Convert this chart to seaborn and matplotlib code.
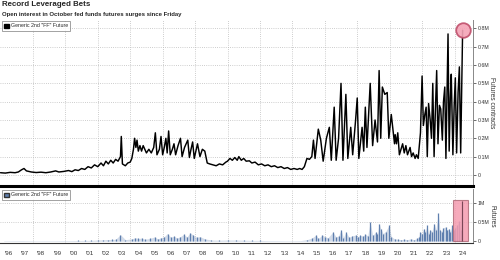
import numpy as np
import pandas as pd
import matplotlib
matplotlib.use("Agg")
import matplotlib.pyplot as plt
import seaborn as sns
from matplotlib.patches import Patch, Rectangle

# ---------------- data ----------------
oi_year = [1996.0, 1996.3, 1996.6, 1996.9, 1997.1, 1997.3, 1997.45, 1997.6, 1997.9,
           1998.2, 1998.5, 1998.8, 1999.1, 1999.4, 1999.6, 1999.9, 2000.2, 2000.4,
           2000.6, 2000.8, 2001.0, 2001.2, 2001.4, 2001.6, 2001.8, 2002.0, 2002.2,
           2002.35, 2002.5, 2002.65, 2002.8, 2002.95, 2003.1, 2003.25, 2003.4, 2003.45,
           2003.52, 2003.7, 2003.85, 2004.0, 2004.1, 2004.2, 2004.27, 2004.35, 2004.42,
           2004.5, 2004.6, 2004.7, 2004.8, 2005.0, 2005.15, 2005.3, 2005.45, 2005.55,
           2005.65, 2005.8, 2005.9, 2006.0, 2006.1, 2006.2, 2006.28, 2006.37, 2006.47,
           2006.6, 2006.7, 2006.8, 2006.95, 2007.1, 2007.2, 2007.35, 2007.55, 2007.65,
           2007.75, 2007.85, 2007.95, 2008.05, 2008.15, 2008.3, 2008.45, 2008.6, 2008.75,
           2008.9, 2009.1, 2009.3, 2009.5, 2009.7, 2009.9, 2010.0, 2010.15, 2010.3,
           2010.45, 2010.6, 2010.7, 2010.85, 2011.0, 2011.15, 2011.35, 2011.5, 2011.7,
           2011.9, 2012.1, 2012.3, 2012.5, 2012.7, 2012.9, 2013.1, 2013.3, 2013.5,
           2013.7, 2013.9, 2014.1, 2014.3, 2014.45, 2014.6, 2014.74, 2014.9, 2015.05,
           2015.2, 2015.3, 2015.4, 2015.6, 2015.75, 2015.9, 2016.1, 2016.28, 2016.4,
           2016.58, 2016.7, 2016.85, 2017.0, 2017.12, 2017.3, 2017.42, 2017.6, 2017.72,
           2017.9, 2018.0, 2018.1, 2018.3, 2018.4, 2018.5, 2018.6, 2018.8, 2018.95,
           2019.1, 2019.25, 2019.35, 2019.45, 2019.55, 2019.7, 2019.85, 2019.95, 2020.1,
           2020.3, 2020.34, 2020.42, 2020.5, 2020.6, 2020.8, 2020.9, 2021.0, 2021.1,
           2021.26, 2021.35, 2021.45, 2021.57, 2021.65, 2021.76, 2021.9, 2022.0, 2022.08,
           2022.17, 2022.25, 2022.32, 2022.4, 2022.5, 2022.58, 2022.66, 2022.74, 2022.82,
           2022.9, 2022.98, 2023.07, 2023.15, 2023.25, 2023.32, 2023.4, 2023.47, 2023.6,
           2023.67, 2023.74, 2023.8, 2023.9, 2023.98, 2024.05, 2024.13, 2024.22, 2024.3,
           2024.38, 2024.5]
oi_value = [0.012, 0.010, 0.014, 0.012, 0.016, 0.028, 0.035, 0.022, 0.016,
            0.013, 0.015, 0.012, 0.016, 0.022, 0.016, 0.019, 0.024, 0.018,
            0.028, 0.024, 0.035, 0.030, 0.045, 0.038, 0.055, 0.045, 0.065,
            0.050, 0.075, 0.060, 0.080, 0.065, 0.085, 0.075, 0.100, 0.210,
            0.060, 0.050, 0.065, 0.070, 0.090, 0.140, 0.200, 0.150, 0.190,
            0.130, 0.160, 0.130, 0.160, 0.120, 0.140, 0.120, 0.150, 0.230,
            0.110, 0.140, 0.210, 0.110, 0.150, 0.200, 0.120, 0.240, 0.110,
            0.140, 0.170, 0.110, 0.160, 0.200, 0.100, 0.150, 0.190, 0.095,
            0.140, 0.180, 0.090, 0.130, 0.170, 0.100, 0.140, 0.130, 0.065,
            0.060, 0.055, 0.050, 0.060, 0.055, 0.070, 0.075, 0.090, 0.080,
            0.095, 0.080, 0.100, 0.080, 0.090, 0.075, 0.077, 0.065, 0.070,
            0.055, 0.060, 0.050, 0.055, 0.045, 0.050, 0.040, 0.045, 0.035,
            0.040, 0.030, 0.035, 0.030, 0.035, 0.030, 0.045, 0.090, 0.085,
            0.100, 0.190, 0.090, 0.250, 0.190, 0.075, 0.200, 0.260, 0.080,
            0.370, 0.080, 0.200, 0.500, 0.080, 0.440, 0.090, 0.260, 0.110,
            0.300, 0.420, 0.090, 0.260, 0.130, 0.370, 0.150, 0.500, 0.160,
            0.300, 0.180, 0.570, 0.200, 0.480, 0.440, 0.450, 0.200, 0.330,
            0.170, 0.220, 0.170, 0.230, 0.110, 0.170, 0.120, 0.160, 0.110,
            0.150, 0.100, 0.120, 0.090, 0.110, 0.090, 0.230, 0.540, 0.270,
            0.330, 0.370, 0.100, 0.390, 0.300, 0.200, 0.500, 0.100, 0.350,
            0.570, 0.170, 0.380, 0.360, 0.190, 0.400, 0.480, 0.090, 0.770,
            0.130, 0.420, 0.550, 0.110, 0.380, 0.530, 0.120, 0.450, 0.590,
            0.120, 0.790]

vol_year = [1996.2, 1996.7, 1997.3, 1997.8, 1998.3, 1998.8, 1999.3, 1999.8, 2000.3,
            2000.8, 2001.2, 2001.6, 2002.0, 2002.3, 2002.6, 2002.9, 2003.1, 2003.4,
            2003.7, 2004.1, 2004.3, 2004.5, 2004.7, 2004.9, 2005.2, 2005.5, 2005.7,
            2005.9, 2006.1, 2006.3, 2006.5, 2006.7, 2006.9, 2007.1, 2007.3, 2007.5,
            2007.7, 2007.9, 2008.1, 2008.3, 2008.6, 2009.0, 2009.5, 2010.0, 2010.5,
            2011.0, 2011.5, 2012.0, 2012.5, 2013.0, 2013.5, 2014.0, 2014.5, 2014.9,
            2015.2, 2015.46, 2015.6, 2015.85, 2016.0, 2016.2, 2016.5, 2016.7, 2016.85,
            2017.0, 2017.15, 2017.3, 2017.5, 2017.7, 2017.9, 2018.05, 2018.2, 2018.35,
            2018.5, 2018.65, 2018.8, 2018.95, 2019.15, 2019.25, 2019.35, 2019.45, 2019.6,
            2019.75, 2019.96, 2020.1, 2020.3, 2020.5, 2020.7, 2020.9, 2021.1, 2021.3,
            2021.5, 2021.7, 2021.8, 2021.9, 2022.0, 2022.1, 2022.2, 2022.3, 2022.4,
            2022.5, 2022.6, 2022.75, 2022.85, 2023.0, 2023.1, 2023.2, 2023.3, 2023.45,
            2023.55, 2023.65, 2023.75, 2023.85, 2023.95, 2024.05, 2024.15, 2024.3,
            2024.38, 2024.45]
vol_value = [0.010, 0.012, 0.015, 0.012, 0.010, 0.012, 0.012, 0.015, 0.015,
             0.018, 0.020, 0.022, 0.030, 0.035, 0.040, 0.045, 0.050, 0.170,
             0.040, 0.060, 0.090, 0.070, 0.080, 0.050, 0.070, 0.110, 0.060,
             0.090, 0.120, 0.200, 0.100, 0.130, 0.080, 0.120, 0.180, 0.110,
             0.220, 0.150, 0.100, 0.120, 0.060, 0.030, 0.025, 0.030, 0.030,
             0.025, 0.020, 0.020, 0.015, 0.015, 0.012, 0.012, 0.015, 0.040,
             0.080, 0.160, 0.070, 0.160, 0.120, 0.090, 0.240, 0.110, 0.140,
             0.300, 0.090, 0.240, 0.100, 0.140, 0.160, 0.120, 0.150, 0.130,
             0.180, 0.140, 0.510, 0.150, 0.240, 0.200, 0.460, 0.330, 0.200,
             0.250, 0.410, 0.120, 0.060, 0.050, 0.040, 0.050, 0.040, 0.060,
             0.040, 0.070, 0.120, 0.240, 0.200, 0.330, 0.250, 0.410, 0.200,
             0.300, 0.250, 0.460, 0.300, 0.730, 0.300, 0.250, 0.350, 0.370,
             0.280, 0.330, 0.250, 0.410, 0.300, 0.350, 0.420, 0.520,
             0.300, 1.050]

year_labels = ["'96", "'97", "'98", "'99", "'00", "'01", "'02", "'03", "'04", "'05",
               "'06", "'07", "'08", "'09", "'10", "'11", "'12", "'13", "'14", "'15",
               "'16", "'17", "'18", "'19", "'20", "'21", "'22", "'23", "'24"]
top_ticks = [0, 0.1, 0.2, 0.3, 0.4, 0.5, 0.6, 0.7, 0.8]
top_tick_labels = ["0", "0.1M", "0.2M", "0.3M", "0.4M", "0.5M", "0.6M", "0.7M", "0.8M"]
bot_ticks = [0, 0.5, 1.0]
bot_tick_labels = ["0", "0.5M", "1M"]
series_name = 'Generic 2nd "FF" Future'
title = "Record Leveraged Bets"
subtitle = "Open interest in October fed funds futures surges since Friday"

# ---------------- style ----------------
sns.set_style("white")
plt.rcParams["font.family"] = ["Liberation Sans", "DejaVu Sans"]

fig = plt.figure(figsize=(5.0, 2.6), dpi=100)
ax = fig.add_axes([0.0, 0.285, 0.946, 0.638])
axb = fig.add_axes([0.0, 0.065, 0.946, 0.208])

grid_kw = dict(color="#bdbdbd", linestyle=(0, (1, 1.6)), linewidth=0.6)
xlim = (1995.97, 2025.14)
even_years = list(range(1998, 2025, 2))

df = pd.DataFrame({"year": oi_year, "oi": oi_value})
sns.lineplot(data=df, x="year", y="oi", ax=ax, color="black", linewidth=1.05,
             legend=False)
ax.scatter([oi_year[-1]], [oi_value[-1]], s=110, facecolor="#f4a3b6",
           edgecolor="#c0506c", linewidth=1.3, alpha=0.9, zorder=5)

ax.set_xlim(*xlim)
ax.set_ylim(-0.06, 0.846)
ax.set_yticks(top_ticks)
ax.set_yticklabels(top_tick_labels)
ax.set_xticks(even_years)
ax.tick_params(axis="x", length=0, labelbottom=False)
ax.yaxis.tick_right()
ax.yaxis.set_label_position("right")
ax.tick_params(axis="y", length=2.2, width=0.6, color="#555555", pad=1.2,
               labelsize=3.8, labelcolor="#333333")
ax.grid(True, **grid_kw)
ax.set_xlabel("")
ax.set_ylabel("Futures contracts", rotation=270, labelpad=4, fontsize=4.8,
              color="#333333")
for s in ["left", "top"]:
    ax.spines[s].set_visible(False)
ax.spines["right"].set_color("#888888")
ax.spines["right"].set_linewidth(0.7)
ax.spines["bottom"].set_color("black")
ax.spines["bottom"].set_linewidth(2.2)
leg = ax.legend(handles=[Patch(facecolor="black", edgecolor="black", label=series_name)],
                loc="upper left", bbox_to_anchor=(0.002, 1.0), fontsize=3.8,
                frameon=True, fancybox=False, handlelength=0.8, handleheight=0.8,
                handletextpad=0.4, borderpad=0.45, borderaxespad=0.2)
leg.get_frame().set_edgecolor("#777777")
leg.get_frame().set_linewidth(0.6)

# ---------------- bottom panel ----------------
axb.vlines(vol_year, 0, vol_value, color="#5f7fae", linewidth=0.9)
axb.fill_between(vol_year, 0, vol_value, color="#7f98c0", alpha=0.35, linewidth=0)
hl_start, hl_end = 2023.9, 2024.85
axb.add_patch(Rectangle((hl_start, 0), hl_end - hl_start, max(vol_value) * 1.02,
                        facecolor="#f59bb0", edgecolor="#b06a78", linewidth=0.8,
                        alpha=0.85, zorder=3))
axb.vlines([vol_year[-1]], 0, [vol_value[-1]], color="#7a4656", linewidth=0.8, zorder=4)
axb.set_xlim(*xlim)
axb.set_ylim(-0.05, 1.36)
axb.set_yticks(bot_ticks)
axb.set_yticklabels(bot_tick_labels)
axb.yaxis.tick_right()
axb.yaxis.set_label_position("right")
axb.tick_params(axis="y", length=2.2, width=0.6, color="#555555", pad=1.2,
                labelsize=3.8, labelcolor="#333333")
axb.set_ylabel("Futures", rotation=270, labelpad=4, fontsize=4.8, color="#333333")
axb.set_xticks(list(range(1996, 2026)))
axb.set_xticks([y + 0.5 for y in range(1996, 2025)], minor=True)
axb.set_xticklabels([])
axb.set_xticklabels(year_labels, minor=True)
axb.tick_params(axis="x", which="major", length=16, width=0.5, color="#999999",
                direction="out")
axb.tick_params(axis="x", which="minor", length=0, pad=6, labelsize=4.5,
                labelcolor="#333333")
axb.grid(False)
for yv in even_years:
    axb.axvline(yv, **grid_kw, zorder=0)
for yv in bot_ticks[1:]:
    axb.axhline(yv, **grid_kw, zorder=0)
for s in ["left", "top"]:
    axb.spines[s].set_visible(False)
axb.spines["right"].set_color("#888888")
axb.spines["right"].set_linewidth(0.7)
axb.spines["bottom"].set_color("#333333")
axb.spines["bottom"].set_linewidth(0.8)
legb = axb.legend(handles=[Patch(facecolor="#5f7fae", edgecolor="#333333", label=series_name)],
                  loc="upper left", bbox_to_anchor=(0.002, 1.0), fontsize=3.8,
                  frameon=True, fancybox=False, handlelength=0.8, handleheight=0.8,
                  handletextpad=0.4, borderpad=0.45, borderaxespad=0.2)
legb.get_frame().set_edgecolor("#777777")
legb.get_frame().set_linewidth(0.6)

fig.text(0.004, 0.995, title, ha="left", va="top", fontsize=5.7, fontweight="bold")
fig.text(0.004, 0.955, subtitle, ha="left", va="top", fontsize=4.3, fontweight="bold")

fig.savefig("out.png", dpi=100)
